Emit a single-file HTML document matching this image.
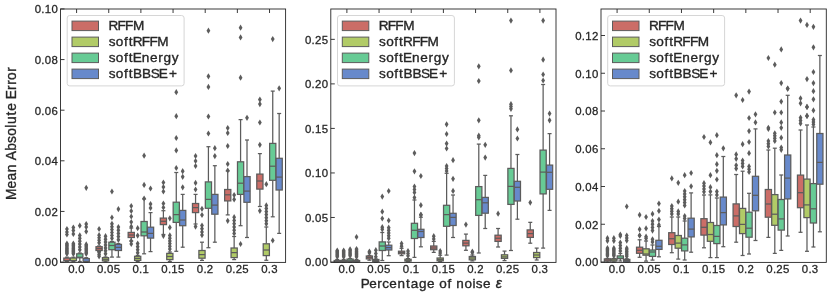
<!DOCTYPE html><html><head><meta charset="utf-8"><style>html,body{margin:0;padding:0;background:#fff;}svg{display:block;will-change:transform;}text{font-family:"Liberation Sans",sans-serif;fill:#262626;stroke:#262626;stroke-width:0.35px;}text.tk{stroke-width:0.28px;}</style></head><body>
<svg width="831" height="297" viewBox="0 0 831 297">
<rect width="831" height="297" fill="#fff"/>
<defs><path id="dm" d="M0,-3.1 L1.9,0 L0,3.1 L-1.9,0 Z"/></defs>
<g stroke="#5c5c5c" stroke-width="1.25" fill="#5c5c5c"><line x1="66.93" y1="260.60" x2="66.93" y2="261.50"/><line x1="66.93" y1="258.10" x2="66.93" y2="257.20"/><line x1="64.93" y1="261.50" x2="68.93" y2="261.50"/><line x1="64.93" y1="257.20" x2="68.93" y2="257.20"/><g stroke="none"><use href="#dm" x="66.93" y="243.60"/><use href="#dm" x="66.93" y="244.73"/><use href="#dm" x="66.93" y="245.87"/><use href="#dm" x="66.93" y="247.00"/><use href="#dm" x="66.93" y="248.13"/><use href="#dm" x="66.93" y="249.27"/><use href="#dm" x="66.93" y="250.40"/><use href="#dm" x="66.93" y="251.53"/><use href="#dm" x="66.93" y="252.67"/><use href="#dm" x="66.93" y="253.80"/><use href="#dm" x="66.93" y="229.00"/><use href="#dm" x="66.93" y="232.00"/><use href="#dm" x="66.93" y="234.50"/></g><rect x="63.83" y="258.10" width="6.20" height="2.50" fill="#cb6d67"/><line x1="63.83" y1="260.60" x2="70.03" y2="260.60"/></g>
<g stroke="#5c5c5c" stroke-width="1.25" fill="#5c5c5c"><line x1="73.36" y1="260.60" x2="73.36" y2="261.50"/><line x1="73.36" y1="258.00" x2="73.36" y2="257.20"/><line x1="71.36" y1="261.50" x2="75.36" y2="261.50"/><line x1="71.36" y1="257.20" x2="75.36" y2="257.20"/><g stroke="none"><use href="#dm" x="73.36" y="243.60"/><use href="#dm" x="73.36" y="244.73"/><use href="#dm" x="73.36" y="245.87"/><use href="#dm" x="73.36" y="247.00"/><use href="#dm" x="73.36" y="248.13"/><use href="#dm" x="73.36" y="249.27"/><use href="#dm" x="73.36" y="250.40"/><use href="#dm" x="73.36" y="251.53"/><use href="#dm" x="73.36" y="252.67"/><use href="#dm" x="73.36" y="253.80"/><use href="#dm" x="73.36" y="227.50"/><use href="#dm" x="73.36" y="230.50"/><use href="#dm" x="73.36" y="234.00"/></g><rect x="70.26" y="258.00" width="6.20" height="2.60" fill="#b1cb67"/><line x1="70.26" y1="260.60" x2="76.46" y2="260.60"/></g>
<g stroke="#5c5c5c" stroke-width="1.25" fill="#5c5c5c"><line x1="79.79" y1="257.80" x2="79.79" y2="261.50"/><line x1="79.79" y1="253.80" x2="79.79" y2="253.00"/><line x1="77.79" y1="261.50" x2="81.79" y2="261.50"/><line x1="77.79" y1="253.00" x2="81.79" y2="253.00"/><g stroke="none"><use href="#dm" x="79.79" y="235.40"/><use href="#dm" x="79.79" y="238.28"/><use href="#dm" x="79.79" y="241.16"/><use href="#dm" x="79.79" y="244.04"/><use href="#dm" x="79.79" y="246.92"/><use href="#dm" x="79.79" y="249.80"/><use href="#dm" x="79.79" y="225.70"/></g><rect x="76.69" y="253.80" width="6.20" height="4.00" fill="#67cb95"/><line x1="76.69" y1="257.20" x2="82.89" y2="257.20"/></g>
<g stroke="#5c5c5c" stroke-width="1.25" fill="#5c5c5c"><line x1="86.23" y1="261.50" x2="86.23" y2="262.00"/><line x1="86.23" y1="258.60" x2="86.23" y2="257.70"/><line x1="84.23" y1="262.00" x2="88.23" y2="262.00"/><line x1="84.23" y1="257.70" x2="88.23" y2="257.70"/><g stroke="none"><use href="#dm" x="86.23" y="244.40"/><use href="#dm" x="86.23" y="245.74"/><use href="#dm" x="86.23" y="247.09"/><use href="#dm" x="86.23" y="248.43"/><use href="#dm" x="86.23" y="249.77"/><use href="#dm" x="86.23" y="251.11"/><use href="#dm" x="86.23" y="252.46"/><use href="#dm" x="86.23" y="253.80"/><use href="#dm" x="86.23" y="224.00"/><use href="#dm" x="86.23" y="227.00"/><use href="#dm" x="86.23" y="231.50"/><use href="#dm" x="86.23" y="187.80"/></g><rect x="83.13" y="258.60" width="6.20" height="2.90" fill="#6789cb"/><line x1="83.13" y1="261.50" x2="89.33" y2="261.50"/></g>
<g stroke="#5c5c5c" stroke-width="1.25" fill="#5c5c5c"><line x1="99.09" y1="250.50" x2="99.09" y2="251.50"/><line x1="99.09" y1="246.70" x2="99.09" y2="246.00"/><line x1="97.09" y1="251.50" x2="101.09" y2="251.50"/><line x1="97.09" y1="246.00" x2="101.09" y2="246.00"/><g stroke="none"><use href="#dm" x="99.09" y="235.20"/><use href="#dm" x="99.09" y="237.73"/><use href="#dm" x="99.09" y="240.27"/><use href="#dm" x="99.09" y="242.80"/><use href="#dm" x="99.09" y="229.00"/><use href="#dm" x="99.09" y="252.50"/><use href="#dm" x="99.09" y="254.50"/><use href="#dm" x="99.09" y="256.30"/></g><rect x="95.99" y="246.70" width="6.20" height="3.80" fill="#cb6d67"/><line x1="95.99" y1="248.60" x2="102.19" y2="248.60"/></g>
<g stroke="#5c5c5c" stroke-width="1.25" fill="#5c5c5c"><line x1="105.52" y1="260.90" x2="105.52" y2="261.80"/><line x1="105.52" y1="257.60" x2="105.52" y2="257.00"/><line x1="103.52" y1="261.80" x2="107.52" y2="261.80"/><line x1="103.52" y1="257.00" x2="107.52" y2="257.00"/><g stroke="none"><use href="#dm" x="105.52" y="236.20"/><use href="#dm" x="105.52" y="239.13"/><use href="#dm" x="105.52" y="242.07"/><use href="#dm" x="105.52" y="245.00"/><use href="#dm" x="105.52" y="247.93"/><use href="#dm" x="105.52" y="250.87"/><use href="#dm" x="105.52" y="253.80"/></g><rect x="102.42" y="257.60" width="6.20" height="3.30" fill="#b1cb67"/><line x1="102.42" y1="259.30" x2="108.62" y2="259.30"/></g>
<g stroke="#5c5c5c" stroke-width="1.25" fill="#5c5c5c"><line x1="111.95" y1="249.70" x2="111.95" y2="257.10"/><line x1="111.95" y1="242.20" x2="111.95" y2="241.50"/><line x1="109.95" y1="257.10" x2="113.95" y2="257.10"/><line x1="109.95" y1="241.50" x2="113.95" y2="241.50"/><g stroke="none"><use href="#dm" x="111.95" y="223.80"/><use href="#dm" x="111.95" y="226.70"/><use href="#dm" x="111.95" y="229.60"/><use href="#dm" x="111.95" y="232.50"/><use href="#dm" x="111.95" y="235.40"/><use href="#dm" x="111.95" y="238.30"/><use href="#dm" x="111.95" y="217.50"/><use href="#dm" x="111.95" y="191.50"/></g><rect x="108.85" y="242.20" width="6.20" height="7.50" fill="#67cb95"/><line x1="108.85" y1="245.50" x2="115.05" y2="245.50"/></g>
<g stroke="#5c5c5c" stroke-width="1.25" fill="#5c5c5c"><line x1="118.38" y1="250.50" x2="118.38" y2="257.10"/><line x1="118.38" y1="244.40" x2="118.38" y2="243.50"/><line x1="116.38" y1="257.10" x2="120.38" y2="257.10"/><line x1="116.38" y1="243.50" x2="120.38" y2="243.50"/><g stroke="none"><use href="#dm" x="118.38" y="227.10"/><use href="#dm" x="118.38" y="230.28"/><use href="#dm" x="118.38" y="233.45"/><use href="#dm" x="118.38" y="236.62"/><use href="#dm" x="118.38" y="239.80"/><use href="#dm" x="118.38" y="209.10"/></g><rect x="115.28" y="244.40" width="6.20" height="6.10" fill="#6789cb"/><line x1="115.28" y1="247.40" x2="121.48" y2="247.40"/></g>
<g stroke="#5c5c5c" stroke-width="1.25" fill="#5c5c5c"><line x1="131.25" y1="237.50" x2="131.25" y2="241.00"/><line x1="131.25" y1="232.40" x2="131.25" y2="228.00"/><line x1="129.25" y1="241.00" x2="133.25" y2="241.00"/><line x1="129.25" y1="228.00" x2="133.25" y2="228.00"/><g stroke="none"><use href="#dm" x="131.25" y="206.00"/><use href="#dm" x="131.25" y="211.00"/><use href="#dm" x="131.25" y="216.50"/><use href="#dm" x="131.25" y="222.00"/><use href="#dm" x="131.25" y="226.50"/><use href="#dm" x="131.25" y="241.00"/><use href="#dm" x="131.25" y="244.00"/></g><rect x="128.15" y="232.40" width="6.20" height="5.10" fill="#cb6d67"/><line x1="128.15" y1="235.00" x2="134.35" y2="235.00"/></g>
<g stroke="#5c5c5c" stroke-width="1.25" fill="#5c5c5c"><line x1="137.68" y1="260.40" x2="137.68" y2="261.50"/><line x1="137.68" y1="256.30" x2="137.68" y2="255.50"/><line x1="135.68" y1="261.50" x2="139.68" y2="261.50"/><line x1="135.68" y1="255.50" x2="139.68" y2="255.50"/><g stroke="none"><use href="#dm" x="137.68" y="243.60"/><use href="#dm" x="137.68" y="246.67"/><use href="#dm" x="137.68" y="249.73"/><use href="#dm" x="137.68" y="252.80"/><use href="#dm" x="137.68" y="228.20"/><use href="#dm" x="137.68" y="235.60"/></g><rect x="134.58" y="256.30" width="6.20" height="4.10" fill="#b1cb67"/><line x1="134.58" y1="258.40" x2="140.78" y2="258.40"/></g>
<g stroke="#5c5c5c" stroke-width="1.25" fill="#5c5c5c"><line x1="144.11" y1="235.80" x2="144.11" y2="253.80"/><line x1="144.11" y1="221.50" x2="144.11" y2="199.00"/><line x1="142.11" y1="253.80" x2="146.11" y2="253.80"/><line x1="142.11" y1="199.00" x2="146.11" y2="199.00"/><g stroke="none"><use href="#dm" x="144.11" y="198.50"/><use href="#dm" x="144.11" y="184.90"/><use href="#dm" x="144.11" y="155.70"/></g><rect x="141.01" y="221.50" width="6.20" height="14.30" fill="#67cb95"/><line x1="141.01" y1="232.00" x2="147.21" y2="232.00"/></g>
<g stroke="#5c5c5c" stroke-width="1.25" fill="#5c5c5c"><line x1="150.54" y1="238.10" x2="150.54" y2="251.60"/><line x1="150.54" y1="227.20" x2="150.54" y2="212.60"/><line x1="148.54" y1="251.60" x2="152.54" y2="251.60"/><line x1="148.54" y1="212.60" x2="152.54" y2="212.60"/><g stroke="none"><use href="#dm" x="150.54" y="204.00"/><use href="#dm" x="150.54" y="208.00"/><use href="#dm" x="150.54" y="188.50"/></g><rect x="147.44" y="227.20" width="6.20" height="10.90" fill="#6789cb"/><line x1="147.44" y1="233.40" x2="153.64" y2="233.40"/></g>
<g stroke="#5c5c5c" stroke-width="1.25" fill="#5c5c5c"><line x1="163.40" y1="224.60" x2="163.40" y2="234.50"/><line x1="163.40" y1="218.10" x2="163.40" y2="210.70"/><line x1="161.40" y1="234.50" x2="165.40" y2="234.50"/><line x1="161.40" y1="210.70" x2="165.40" y2="210.70"/><g stroke="none"><use href="#dm" x="163.40" y="203.50"/><use href="#dm" x="163.40" y="207.50"/><use href="#dm" x="163.40" y="182.50"/><use href="#dm" x="163.40" y="187.00"/><use href="#dm" x="163.40" y="191.50"/><use href="#dm" x="163.40" y="235.80"/></g><rect x="160.30" y="218.10" width="6.20" height="6.50" fill="#cb6d67"/><line x1="160.30" y1="221.30" x2="166.50" y2="221.30"/></g>
<g stroke="#5c5c5c" stroke-width="1.25" fill="#5c5c5c"><line x1="169.83" y1="259.60" x2="169.83" y2="261.50"/><line x1="169.83" y1="253.40" x2="169.83" y2="252.00"/><line x1="167.83" y1="261.50" x2="171.83" y2="261.50"/><line x1="167.83" y1="252.00" x2="171.83" y2="252.00"/><g stroke="none"><use href="#dm" x="169.83" y="235.40"/><use href="#dm" x="169.83" y="238.14"/><use href="#dm" x="169.83" y="240.88"/><use href="#dm" x="169.83" y="243.62"/><use href="#dm" x="169.83" y="246.36"/><use href="#dm" x="169.83" y="249.10"/><use href="#dm" x="169.83" y="218.30"/><use href="#dm" x="169.83" y="227.40"/></g><rect x="166.73" y="253.40" width="6.20" height="6.20" fill="#b1cb67"/><line x1="166.73" y1="256.50" x2="172.93" y2="256.50"/></g>
<g stroke="#5c5c5c" stroke-width="1.25" fill="#5c5c5c"><line x1="176.27" y1="222.40" x2="176.27" y2="251.30"/><line x1="176.27" y1="202.20" x2="176.27" y2="172.50"/><line x1="174.27" y1="251.30" x2="178.27" y2="251.30"/><line x1="174.27" y1="172.50" x2="178.27" y2="172.50"/><g stroke="none"><use href="#dm" x="176.27" y="168.00"/><use href="#dm" x="176.27" y="150.40"/><use href="#dm" x="176.27" y="138.00"/><use href="#dm" x="176.27" y="116.20"/><use href="#dm" x="176.27" y="92.20"/></g><rect x="173.17" y="202.20" width="6.20" height="20.20" fill="#67cb95"/><line x1="173.17" y1="214.60" x2="179.37" y2="214.60"/></g>
<g stroke="#5c5c5c" stroke-width="1.25" fill="#5c5c5c"><line x1="182.70" y1="225.70" x2="182.70" y2="247.20"/><line x1="182.70" y1="210.40" x2="182.70" y2="194.40"/><line x1="180.70" y1="247.20" x2="184.70" y2="247.20"/><line x1="180.70" y1="194.40" x2="184.70" y2="194.40"/><g stroke="none"><use href="#dm" x="182.70" y="187.30"/><use href="#dm" x="182.70" y="171.20"/><use href="#dm" x="182.70" y="176.80"/></g><rect x="179.60" y="210.40" width="6.20" height="15.30" fill="#6789cb"/><line x1="179.60" y1="220.00" x2="185.80" y2="220.00"/></g>
<g stroke="#5c5c5c" stroke-width="1.25" fill="#5c5c5c"><line x1="195.56" y1="212.60" x2="195.56" y2="224.00"/><line x1="195.56" y1="203.50" x2="195.56" y2="194.40"/><line x1="193.56" y1="224.00" x2="197.56" y2="224.00"/><line x1="193.56" y1="194.40" x2="197.56" y2="194.40"/><g stroke="none"><use href="#dm" x="195.56" y="182.90"/><use href="#dm" x="195.56" y="189.50"/><use href="#dm" x="195.56" y="156.00"/><use href="#dm" x="195.56" y="161.00"/><use href="#dm" x="195.56" y="166.00"/><use href="#dm" x="195.56" y="226.60"/></g><rect x="192.46" y="203.50" width="6.20" height="9.10" fill="#cb6d67"/><line x1="192.46" y1="207.60" x2="198.66" y2="207.60"/></g>
<g stroke="#5c5c5c" stroke-width="1.25" fill="#5c5c5c"><line x1="201.99" y1="258.20" x2="201.99" y2="260.40"/><line x1="201.99" y1="250.50" x2="201.99" y2="242.20"/><line x1="199.99" y1="260.40" x2="203.99" y2="260.40"/><line x1="199.99" y1="242.20" x2="203.99" y2="242.20"/><g stroke="none"><use href="#dm" x="201.99" y="225.50"/><use href="#dm" x="201.99" y="228.70"/><use href="#dm" x="201.99" y="231.90"/><use href="#dm" x="201.99" y="235.10"/><use href="#dm" x="201.99" y="215.00"/><use href="#dm" x="201.99" y="208.80"/></g><rect x="198.89" y="250.50" width="6.20" height="7.70" fill="#b1cb67"/><line x1="198.89" y1="254.60" x2="205.09" y2="254.60"/></g>
<g stroke="#5c5c5c" stroke-width="1.25" fill="#5c5c5c"><line x1="208.42" y1="208.30" x2="208.42" y2="247.70"/><line x1="208.42" y1="181.90" x2="208.42" y2="146.70"/><line x1="206.42" y1="247.70" x2="210.42" y2="247.70"/><line x1="206.42" y1="146.70" x2="210.42" y2="146.70"/><g stroke="none"><use href="#dm" x="208.42" y="133.50"/><use href="#dm" x="208.42" y="116.50"/><use href="#dm" x="208.42" y="86.90"/><use href="#dm" x="208.42" y="76.30"/><use href="#dm" x="208.42" y="30.70"/></g><rect x="205.32" y="181.90" width="6.20" height="26.40" fill="#67cb95"/><line x1="205.32" y1="199.40" x2="211.52" y2="199.40"/></g>
<g stroke="#5c5c5c" stroke-width="1.25" fill="#5c5c5c"><line x1="214.85" y1="214.20" x2="214.85" y2="242.20"/><line x1="214.85" y1="194.40" x2="214.85" y2="165.70"/><line x1="212.85" y1="242.20" x2="216.85" y2="242.20"/><line x1="212.85" y1="165.70" x2="216.85" y2="165.70"/><g stroke="none"><use href="#dm" x="214.85" y="156.10"/><use href="#dm" x="214.85" y="148.20"/></g><rect x="211.75" y="194.40" width="6.20" height="19.80" fill="#6789cb"/><line x1="211.75" y1="205.10" x2="217.95" y2="205.10"/></g>
<g stroke="#5c5c5c" stroke-width="1.25" fill="#5c5c5c"><line x1="227.72" y1="200.90" x2="227.72" y2="214.90"/><line x1="227.72" y1="189.50" x2="227.72" y2="171.00"/><line x1="225.72" y1="214.90" x2="229.72" y2="214.90"/><line x1="225.72" y1="171.00" x2="229.72" y2="171.00"/><g stroke="none"><use href="#dm" x="227.72" y="170.50"/><use href="#dm" x="227.72" y="164.00"/><use href="#dm" x="227.72" y="146.00"/><use href="#dm" x="227.72" y="133.00"/><use href="#dm" x="227.72" y="128.00"/><use href="#dm" x="227.72" y="220.80"/></g><rect x="224.62" y="189.50" width="6.20" height="11.40" fill="#cb6d67"/><line x1="224.62" y1="194.80" x2="230.82" y2="194.80"/></g>
<g stroke="#5c5c5c" stroke-width="1.25" fill="#5c5c5c"><line x1="234.15" y1="257.60" x2="234.15" y2="259.60"/><line x1="234.15" y1="248.00" x2="234.15" y2="236.50"/><line x1="232.15" y1="259.60" x2="236.15" y2="259.60"/><line x1="232.15" y1="236.50" x2="236.15" y2="236.50"/><g stroke="none"><use href="#dm" x="234.15" y="217.20"/><use href="#dm" x="234.15" y="220.44"/><use href="#dm" x="234.15" y="223.68"/><use href="#dm" x="234.15" y="226.92"/><use href="#dm" x="234.15" y="230.16"/><use href="#dm" x="234.15" y="233.40"/><use href="#dm" x="234.15" y="199.40"/><use href="#dm" x="234.15" y="195.00"/></g><rect x="231.05" y="248.00" width="6.20" height="9.60" fill="#b1cb67"/><line x1="231.05" y1="252.60" x2="237.25" y2="252.60"/></g>
<g stroke="#5c5c5c" stroke-width="1.25" fill="#5c5c5c"><line x1="240.58" y1="194.40" x2="240.58" y2="225.70"/><line x1="240.58" y1="161.80" x2="240.58" y2="119.60"/><line x1="238.58" y1="225.70" x2="242.58" y2="225.70"/><line x1="238.58" y1="119.60" x2="242.58" y2="119.60"/><g stroke="none"><use href="#dm" x="240.58" y="77.70"/><use href="#dm" x="240.58" y="37.40"/><use href="#dm" x="240.58" y="27.70"/><use href="#dm" x="240.58" y="244.00"/></g><rect x="237.48" y="161.80" width="6.20" height="32.60" fill="#67cb95"/><line x1="237.48" y1="183.20" x2="243.68" y2="183.20"/></g>
<g stroke="#5c5c5c" stroke-width="1.25" fill="#5c5c5c"><line x1="247.01" y1="202.30" x2="247.01" y2="237.50"/><line x1="247.01" y1="176.60" x2="247.01" y2="140.00"/><line x1="245.01" y1="237.50" x2="249.01" y2="237.50"/><line x1="245.01" y1="140.00" x2="249.01" y2="140.00"/><g stroke="none"><use href="#dm" x="247.01" y="117.80"/></g><rect x="243.91" y="176.60" width="6.20" height="25.70" fill="#6789cb"/><line x1="243.91" y1="191.10" x2="250.11" y2="191.10"/></g>
<g stroke="#5c5c5c" stroke-width="1.25" fill="#5c5c5c"><line x1="259.87" y1="189.10" x2="259.87" y2="206.50"/><line x1="259.87" y1="174.10" x2="259.87" y2="153.60"/><line x1="257.87" y1="206.50" x2="261.87" y2="206.50"/><line x1="257.87" y1="153.60" x2="261.87" y2="153.60"/><g stroke="none"><use href="#dm" x="259.87" y="144.80"/><use href="#dm" x="259.87" y="122.50"/><use href="#dm" x="259.87" y="104.10"/><use href="#dm" x="259.87" y="99.60"/><use href="#dm" x="259.87" y="210.80"/></g><rect x="256.77" y="174.10" width="6.20" height="15.00" fill="#cb6d67"/><line x1="256.77" y1="181.00" x2="262.97" y2="181.00"/></g>
<g stroke="#5c5c5c" stroke-width="1.25" fill="#5c5c5c"><line x1="266.31" y1="255.60" x2="266.31" y2="260.30"/><line x1="266.31" y1="243.80" x2="266.31" y2="227.00"/><line x1="264.31" y1="260.30" x2="268.31" y2="260.30"/><line x1="264.31" y1="227.00" x2="268.31" y2="227.00"/><g stroke="none"><use href="#dm" x="266.31" y="205.40"/><use href="#dm" x="266.31" y="208.47"/><use href="#dm" x="266.31" y="211.53"/><use href="#dm" x="266.31" y="214.60"/><use href="#dm" x="266.31" y="217.67"/><use href="#dm" x="266.31" y="220.73"/><use href="#dm" x="266.31" y="223.80"/><use href="#dm" x="266.31" y="184.20"/></g><rect x="263.21" y="243.80" width="6.20" height="11.80" fill="#b1cb67"/><line x1="263.21" y1="250.00" x2="269.41" y2="250.00"/></g>
<g stroke="#5c5c5c" stroke-width="1.25" fill="#5c5c5c"><line x1="272.74" y1="180.30" x2="272.74" y2="216.80"/><line x1="272.74" y1="143.40" x2="272.74" y2="91.10"/><line x1="270.74" y1="216.80" x2="274.74" y2="216.80"/><line x1="270.74" y1="91.10" x2="274.74" y2="91.10"/><g stroke="none"><use href="#dm" x="272.74" y="39.10"/><use href="#dm" x="272.74" y="240.50"/></g><rect x="269.64" y="143.40" width="6.20" height="36.90" fill="#67cb95"/><line x1="269.64" y1="166.20" x2="275.84" y2="166.20"/></g>
<g stroke="#5c5c5c" stroke-width="1.25" fill="#5c5c5c"><line x1="279.17" y1="190.00" x2="279.17" y2="233.40"/><line x1="279.17" y1="158.30" x2="279.17" y2="113.50"/><line x1="277.17" y1="233.40" x2="281.17" y2="233.40"/><line x1="277.17" y1="113.50" x2="281.17" y2="113.50"/><g stroke="none"><use href="#dm" x="279.17" y="88.30"/></g><rect x="276.07" y="158.30" width="6.20" height="31.70" fill="#6789cb"/><line x1="276.07" y1="177.10" x2="282.27" y2="177.10"/></g>
<rect x="60.5" y="9.0" width="225.10" height="253.40" fill="none" stroke="#262626" stroke-width="0.9"/>
<line x1="60.5" y1="262.05" x2="64.50" y2="262.05" stroke="#262626" stroke-width="0.9"/>
<text x="34.69 41.29 44.71 51.39" y="266.45" font-size="11.4" class="tk">0.00</text>
<line x1="60.5" y1="211.43" x2="64.50" y2="211.43" stroke="#262626" stroke-width="0.9"/>
<text x="34.69 41.29 44.71 51.39" y="215.83" font-size="11.4" class="tk">0.02</text>
<line x1="60.5" y1="160.81" x2="64.50" y2="160.81" stroke="#262626" stroke-width="0.9"/>
<text x="34.69 41.29 44.71 51.39" y="165.21" font-size="11.4" class="tk">0.04</text>
<line x1="60.5" y1="110.19" x2="64.50" y2="110.19" stroke="#262626" stroke-width="0.9"/>
<text x="34.69 41.29 44.71 51.39" y="114.59" font-size="11.4" class="tk">0.06</text>
<line x1="60.5" y1="59.57" x2="64.50" y2="59.57" stroke="#262626" stroke-width="0.9"/>
<text x="34.69 41.29 44.71 51.39" y="63.97" font-size="11.4" class="tk">0.08</text>
<line x1="60.5" y1="8.95" x2="64.50" y2="8.95" stroke="#262626" stroke-width="0.9"/>
<text x="34.69 41.29 44.71 51.39" y="13.35" font-size="11.4" class="tk">0.10</text>
<line x1="76.58" y1="9.0" x2="76.58" y2="13.00" stroke="#262626" stroke-width="0.9"/>
<text x="68.20 74.79 78.22" y="273.00" font-size="11.4" class="tk">0.0</text>
<line x1="108.74" y1="9.0" x2="108.74" y2="13.00" stroke="#262626" stroke-width="0.9"/>
<text x="97.02 103.61 107.03 113.71" y="273.00" font-size="11.4" class="tk">0.05</text>
<line x1="140.89" y1="9.0" x2="140.89" y2="13.00" stroke="#262626" stroke-width="0.9"/>
<text x="132.51 139.11 142.53" y="273.00" font-size="11.4" class="tk">0.1</text>
<line x1="173.05" y1="9.0" x2="173.05" y2="13.00" stroke="#262626" stroke-width="0.9"/>
<text x="161.33 167.93 171.35 178.03" y="273.00" font-size="11.4" class="tk">0.15</text>
<line x1="205.21" y1="9.0" x2="205.21" y2="13.00" stroke="#262626" stroke-width="0.9"/>
<text x="196.83 203.42 206.85" y="273.00" font-size="11.4" class="tk">0.2</text>
<line x1="237.36" y1="9.0" x2="237.36" y2="13.00" stroke="#262626" stroke-width="0.9"/>
<text x="225.64 232.24 235.66 242.34" y="273.00" font-size="11.4" class="tk">0.25</text>
<line x1="269.52" y1="9.0" x2="269.52" y2="13.00" stroke="#262626" stroke-width="0.9"/>
<text x="261.14 267.74 271.16" y="273.00" font-size="11.4" class="tk">0.3</text>
<rect x="67.20" y="15.50" width="116.9" height="70.4" rx="2.5" fill="#fff" fill-opacity="0.8" stroke="#d6d6d6" stroke-width="1"/>
<rect x="72.00" y="21.10" width="26.5" height="9.5" fill="#cb6d67" stroke="#5c5c5c" stroke-width="1"/>
<text x="108.44 117.52 125.05 132.96" y="30.10" font-size="13.6">RFFM</text>
<rect x="72.00" y="37.10" width="26.5" height="9.5" fill="#b1cb67" stroke="#5c5c5c" stroke-width="1"/>
<text x="108.81 115.85 124.06 128.82 132.80 141.87 149.41 157.32" y="46.10" font-size="13.6">softRFFM</text>
<rect x="72.00" y="53.10" width="26.5" height="9.5" fill="#67cb95" stroke="#5c5c5c" stroke-width="1"/>
<text x="108.81 115.85 124.06 128.82 132.76 141.80 149.99 158.23 163.44 171.74" y="62.10" font-size="13.6">softEnergy</text>
<rect x="72.00" y="69.10" width="26.5" height="9.5" fill="#6789cb" stroke="#5c5c5c" stroke-width="1"/>
<text x="108.81 115.85 124.06 128.82 133.12 142.10 150.64 158.82 169.01" y="78.10" font-size="13.6">softBBSE+</text>
<g stroke="#5c5c5c" stroke-width="1.25" fill="#5c5c5c"><line x1="337.23" y1="261.80" x2="337.23" y2="262.00"/><line x1="337.23" y1="260.50" x2="337.23" y2="259.50"/><line x1="335.23" y1="262.00" x2="339.23" y2="262.00"/><line x1="335.23" y1="259.50" x2="339.23" y2="259.50"/><g stroke="none"><use href="#dm" x="337.23" y="250.50"/><use href="#dm" x="337.23" y="251.55"/><use href="#dm" x="337.23" y="252.60"/><use href="#dm" x="337.23" y="253.65"/><use href="#dm" x="337.23" y="254.70"/><use href="#dm" x="337.23" y="255.75"/><use href="#dm" x="337.23" y="256.80"/></g><rect x="334.13" y="260.50" width="6.20" height="1.30" fill="#cb6d67"/><line x1="334.13" y1="261.20" x2="340.33" y2="261.20"/></g>
<g stroke="#5c5c5c" stroke-width="1.25" fill="#5c5c5c"><line x1="343.67" y1="261.80" x2="343.67" y2="262.00"/><line x1="343.67" y1="260.50" x2="343.67" y2="259.50"/><line x1="341.67" y1="262.00" x2="345.67" y2="262.00"/><line x1="341.67" y1="259.50" x2="345.67" y2="259.50"/><g stroke="none"><use href="#dm" x="343.67" y="250.50"/><use href="#dm" x="343.67" y="251.55"/><use href="#dm" x="343.67" y="252.60"/><use href="#dm" x="343.67" y="253.65"/><use href="#dm" x="343.67" y="254.70"/><use href="#dm" x="343.67" y="255.75"/><use href="#dm" x="343.67" y="256.80"/></g><rect x="340.57" y="260.50" width="6.20" height="1.30" fill="#b1cb67"/><line x1="340.57" y1="261.20" x2="346.77" y2="261.20"/></g>
<g stroke="#5c5c5c" stroke-width="1.25" fill="#5c5c5c"><line x1="350.10" y1="261.50" x2="350.10" y2="262.00"/><line x1="350.10" y1="259.10" x2="350.10" y2="258.50"/><line x1="348.10" y1="262.00" x2="352.10" y2="262.00"/><line x1="348.10" y1="258.50" x2="352.10" y2="258.50"/><g stroke="none"><use href="#dm" x="350.10" y="249.30"/><use href="#dm" x="350.10" y="250.60"/><use href="#dm" x="350.10" y="251.90"/><use href="#dm" x="350.10" y="253.20"/><use href="#dm" x="350.10" y="254.50"/><use href="#dm" x="350.10" y="255.80"/></g><rect x="347.00" y="259.10" width="6.20" height="2.40" fill="#67cb95"/><line x1="347.00" y1="260.80" x2="353.20" y2="260.80"/></g>
<g stroke="#5c5c5c" stroke-width="1.25" fill="#5c5c5c"><line x1="356.54" y1="261.80" x2="356.54" y2="262.00"/><line x1="356.54" y1="260.50" x2="356.54" y2="259.50"/><line x1="354.54" y1="262.00" x2="358.54" y2="262.00"/><line x1="354.54" y1="259.50" x2="358.54" y2="259.50"/><g stroke="none"><use href="#dm" x="356.54" y="249.00"/><use href="#dm" x="356.54" y="250.11"/><use href="#dm" x="356.54" y="251.23"/><use href="#dm" x="356.54" y="252.34"/><use href="#dm" x="356.54" y="253.46"/><use href="#dm" x="356.54" y="254.57"/><use href="#dm" x="356.54" y="255.69"/><use href="#dm" x="356.54" y="256.80"/><use href="#dm" x="356.54" y="237.00"/></g><rect x="353.44" y="260.50" width="6.20" height="1.30" fill="#6789cb"/><line x1="353.44" y1="261.20" x2="359.64" y2="261.20"/></g>
<g stroke="#5c5c5c" stroke-width="1.25" fill="#5c5c5c"><line x1="369.41" y1="258.90" x2="369.41" y2="260.20"/><line x1="369.41" y1="256.00" x2="369.41" y2="255.50"/><line x1="367.41" y1="260.20" x2="371.41" y2="260.20"/><line x1="367.41" y1="255.50" x2="371.41" y2="255.50"/><g stroke="none"><use href="#dm" x="369.41" y="251.50"/><use href="#dm" x="369.41" y="252.80"/></g><rect x="366.31" y="256.00" width="6.20" height="2.90" fill="#cb6d67"/><line x1="366.31" y1="257.40" x2="372.51" y2="257.40"/></g>
<g stroke="#5c5c5c" stroke-width="1.25" fill="#5c5c5c"><line x1="375.84" y1="261.50" x2="375.84" y2="262.00"/><line x1="375.84" y1="259.50" x2="375.84" y2="259.00"/><line x1="373.84" y1="262.00" x2="377.84" y2="262.00"/><line x1="373.84" y1="259.00" x2="377.84" y2="259.00"/><g stroke="none"><use href="#dm" x="375.84" y="250.20"/><use href="#dm" x="375.84" y="253.50"/><use href="#dm" x="375.84" y="256.80"/></g><rect x="372.74" y="259.50" width="6.20" height="2.00" fill="#b1cb67"/><line x1="372.74" y1="260.50" x2="378.94" y2="260.50"/></g>
<g stroke="#5c5c5c" stroke-width="1.25" fill="#5c5c5c"><line x1="382.27" y1="250.50" x2="382.27" y2="260.50"/><line x1="382.27" y1="241.90" x2="382.27" y2="232.50"/><line x1="380.27" y1="260.50" x2="384.27" y2="260.50"/><line x1="380.27" y1="232.50" x2="384.27" y2="232.50"/><g stroke="none"><use href="#dm" x="382.27" y="227.20"/><use href="#dm" x="382.27" y="229.30"/><use href="#dm" x="382.27" y="218.50"/><use href="#dm" x="382.27" y="211.70"/><use href="#dm" x="382.27" y="196.60"/></g><rect x="379.17" y="241.90" width="6.20" height="8.60" fill="#67cb95"/><line x1="379.17" y1="246.00" x2="385.37" y2="246.00"/></g>
<g stroke="#5c5c5c" stroke-width="1.25" fill="#5c5c5c"><line x1="388.71" y1="250.00" x2="388.71" y2="255.70"/><line x1="388.71" y1="245.20" x2="388.71" y2="242.00"/><line x1="386.71" y1="255.70" x2="390.71" y2="255.70"/><line x1="386.71" y1="242.00" x2="390.71" y2="242.00"/><g stroke="none"><use href="#dm" x="388.71" y="227.70"/><use href="#dm" x="388.71" y="230.35"/><use href="#dm" x="388.71" y="233.00"/><use href="#dm" x="388.71" y="235.65"/><use href="#dm" x="388.71" y="238.30"/><use href="#dm" x="388.71" y="220.50"/><use href="#dm" x="388.71" y="191.00"/></g><rect x="385.61" y="245.20" width="6.20" height="4.80" fill="#6789cb"/><line x1="385.61" y1="247.60" x2="391.81" y2="247.60"/></g>
<g stroke="#5c5c5c" stroke-width="1.25" fill="#5c5c5c"><line x1="401.58" y1="253.80" x2="401.58" y2="255.60"/><line x1="401.58" y1="251.20" x2="401.58" y2="248.30"/><line x1="399.58" y1="255.60" x2="403.58" y2="255.60"/><line x1="399.58" y1="248.30" x2="403.58" y2="248.30"/><g stroke="none"><use href="#dm" x="401.58" y="243.50"/><use href="#dm" x="401.58" y="246.20"/></g><rect x="398.48" y="251.20" width="6.20" height="2.60" fill="#cb6d67"/><line x1="398.48" y1="252.50" x2="404.68" y2="252.50"/></g>
<g stroke="#5c5c5c" stroke-width="1.25" fill="#5c5c5c"><line x1="408.01" y1="261.10" x2="408.01" y2="261.50"/><line x1="408.01" y1="259.20" x2="408.01" y2="258.60"/><line x1="406.01" y1="261.50" x2="410.01" y2="261.50"/><line x1="406.01" y1="258.60" x2="410.01" y2="258.60"/><g stroke="none"><use href="#dm" x="408.01" y="251.10"/><use href="#dm" x="408.01" y="253.45"/><use href="#dm" x="408.01" y="255.80"/></g><rect x="404.91" y="259.20" width="6.20" height="1.90" fill="#b1cb67"/><line x1="404.91" y1="260.20" x2="411.11" y2="260.20"/></g>
<g stroke="#5c5c5c" stroke-width="1.25" fill="#5c5c5c"><line x1="414.45" y1="238.50" x2="414.45" y2="257.40"/><line x1="414.45" y1="223.30" x2="414.45" y2="200.00"/><line x1="412.45" y1="257.40" x2="416.45" y2="257.40"/><line x1="412.45" y1="200.00" x2="416.45" y2="200.00"/><g stroke="none"><use href="#dm" x="414.45" y="197.60"/><use href="#dm" x="414.45" y="192.50"/><use href="#dm" x="414.45" y="189.50"/><use href="#dm" x="414.45" y="186.50"/><use href="#dm" x="414.45" y="171.30"/><use href="#dm" x="414.45" y="153.10"/></g><rect x="411.35" y="223.30" width="6.20" height="15.20" fill="#67cb95"/><line x1="411.35" y1="230.30" x2="417.55" y2="230.30"/></g>
<g stroke="#5c5c5c" stroke-width="1.25" fill="#5c5c5c"><line x1="420.88" y1="237.50" x2="420.88" y2="246.80"/><line x1="420.88" y1="229.30" x2="420.88" y2="217.20"/><line x1="418.88" y1="246.80" x2="422.88" y2="246.80"/><line x1="418.88" y1="217.20" x2="422.88" y2="217.20"/><g stroke="none"><use href="#dm" x="420.88" y="214.85"/><use href="#dm" x="420.88" y="214.85"/><use href="#dm" x="420.88" y="205.20"/><use href="#dm" x="420.88" y="176.00"/></g><rect x="417.78" y="229.30" width="6.20" height="8.20" fill="#6789cb"/><line x1="417.78" y1="231.50" x2="423.98" y2="231.50"/></g>
<g stroke="#5c5c5c" stroke-width="1.25" fill="#5c5c5c"><line x1="433.75" y1="249.70" x2="433.75" y2="252.40"/><line x1="433.75" y1="246.00" x2="433.75" y2="241.40"/><line x1="431.75" y1="252.40" x2="435.75" y2="252.40"/><line x1="431.75" y1="241.40" x2="435.75" y2="241.40"/><g stroke="none"><use href="#dm" x="433.75" y="236.20"/><use href="#dm" x="433.75" y="239.00"/></g><rect x="430.65" y="246.00" width="6.20" height="3.70" fill="#cb6d67"/><line x1="430.65" y1="248.00" x2="436.85" y2="248.00"/></g>
<g stroke="#5c5c5c" stroke-width="1.25" fill="#5c5c5c"><line x1="440.18" y1="260.80" x2="440.18" y2="261.50"/><line x1="440.18" y1="258.00" x2="440.18" y2="255.20"/><line x1="438.18" y1="261.50" x2="442.18" y2="261.50"/><line x1="438.18" y1="255.20" x2="442.18" y2="255.20"/><g stroke="none"><use href="#dm" x="440.18" y="251.00"/><use href="#dm" x="440.18" y="253.00"/></g><rect x="437.08" y="258.00" width="6.20" height="2.80" fill="#b1cb67"/><line x1="437.08" y1="259.40" x2="443.28" y2="259.40"/></g>
<g stroke="#5c5c5c" stroke-width="1.25" fill="#5c5c5c"><line x1="446.62" y1="226.30" x2="446.62" y2="255.10"/><line x1="446.62" y1="205.30" x2="446.62" y2="173.30"/><line x1="444.62" y1="255.10" x2="448.62" y2="255.10"/><line x1="444.62" y1="173.30" x2="448.62" y2="173.30"/><g stroke="none"><use href="#dm" x="446.62" y="166.00"/><use href="#dm" x="446.62" y="168.50"/><use href="#dm" x="446.62" y="171.00"/><use href="#dm" x="446.62" y="148.50"/><use href="#dm" x="446.62" y="143.60"/><use href="#dm" x="446.62" y="134.00"/><use href="#dm" x="446.62" y="124.30"/></g><rect x="443.52" y="205.30" width="6.20" height="21.00" fill="#67cb95"/><line x1="443.52" y1="214.60" x2="449.72" y2="214.60"/></g>
<g stroke="#5c5c5c" stroke-width="1.25" fill="#5c5c5c"><line x1="453.05" y1="225.50" x2="453.05" y2="237.50"/><line x1="453.05" y1="213.30" x2="453.05" y2="195.00"/><line x1="451.05" y1="237.50" x2="455.05" y2="237.50"/><line x1="451.05" y1="195.00" x2="455.05" y2="195.00"/><g stroke="none"><use href="#dm" x="453.05" y="190.90"/><use href="#dm" x="453.05" y="178.80"/><use href="#dm" x="453.05" y="160.20"/></g><rect x="449.95" y="213.30" width="6.20" height="12.20" fill="#6789cb"/><line x1="449.95" y1="217.40" x2="456.15" y2="217.40"/></g>
<g stroke="#5c5c5c" stroke-width="1.25" fill="#5c5c5c"><line x1="465.92" y1="245.80" x2="465.92" y2="250.30"/><line x1="465.92" y1="240.40" x2="465.92" y2="234.10"/><line x1="463.92" y1="250.30" x2="467.92" y2="250.30"/><line x1="463.92" y1="234.10" x2="467.92" y2="234.10"/><g stroke="none"><use href="#dm" x="465.92" y="224.60"/></g><rect x="462.82" y="240.40" width="6.20" height="5.40" fill="#cb6d67"/><line x1="462.82" y1="243.10" x2="469.02" y2="243.10"/></g>
<g stroke="#5c5c5c" stroke-width="1.25" fill="#5c5c5c"><line x1="472.35" y1="259.80" x2="472.35" y2="260.90"/><line x1="472.35" y1="256.50" x2="472.35" y2="255.00"/><line x1="470.35" y1="260.90" x2="474.35" y2="260.90"/><line x1="470.35" y1="255.00" x2="474.35" y2="255.00"/><g stroke="none"><use href="#dm" x="472.35" y="251.70"/><use href="#dm" x="472.35" y="252.40"/></g><rect x="469.25" y="256.50" width="6.20" height="3.30" fill="#b1cb67"/><line x1="469.25" y1="258.00" x2="475.45" y2="258.00"/></g>
<g stroke="#5c5c5c" stroke-width="1.25" fill="#5c5c5c"><line x1="478.79" y1="215.40" x2="478.79" y2="253.00"/><line x1="478.79" y1="186.60" x2="478.79" y2="144.10"/><line x1="476.79" y1="253.00" x2="480.79" y2="253.00"/><line x1="476.79" y1="144.10" x2="480.79" y2="144.10"/><g stroke="none"><use href="#dm" x="478.79" y="135.70"/><use href="#dm" x="478.79" y="137.30"/><use href="#dm" x="478.79" y="120.30"/><use href="#dm" x="478.79" y="81.00"/><use href="#dm" x="478.79" y="66.30"/></g><rect x="475.69" y="186.60" width="6.20" height="28.80" fill="#67cb95"/><line x1="475.69" y1="199.70" x2="481.89" y2="199.70"/></g>
<g stroke="#5c5c5c" stroke-width="1.25" fill="#5c5c5c"><line x1="485.22" y1="213.20" x2="485.22" y2="228.50"/><line x1="485.22" y1="197.40" x2="485.22" y2="175.40"/><line x1="483.22" y1="228.50" x2="487.22" y2="228.50"/><line x1="483.22" y1="175.40" x2="487.22" y2="175.40"/><g stroke="none"><use href="#dm" x="485.22" y="157.60"/><use href="#dm" x="485.22" y="144.80"/></g><rect x="482.12" y="197.40" width="6.20" height="15.80" fill="#6789cb"/><line x1="482.12" y1="202.80" x2="488.32" y2="202.80"/></g>
<g stroke="#5c5c5c" stroke-width="1.25" fill="#5c5c5c"><line x1="498.09" y1="241.40" x2="498.09" y2="247.00"/><line x1="498.09" y1="235.20" x2="498.09" y2="228.50"/><line x1="496.09" y1="247.00" x2="500.09" y2="247.00"/><line x1="496.09" y1="228.50" x2="500.09" y2="228.50"/><g stroke="none"><use href="#dm" x="498.09" y="213.70"/></g><rect x="494.99" y="235.20" width="6.20" height="6.20" fill="#cb6d67"/><line x1="494.99" y1="238.25" x2="501.19" y2="238.25"/></g>
<g stroke="#5c5c5c" stroke-width="1.25" fill="#5c5c5c"><line x1="504.53" y1="258.40" x2="504.53" y2="260.60"/><line x1="504.53" y1="254.80" x2="504.53" y2="251.10"/><line x1="502.53" y1="260.60" x2="506.53" y2="260.60"/><line x1="502.53" y1="251.10" x2="506.53" y2="251.10"/><g stroke="none"></g><rect x="501.43" y="254.80" width="6.20" height="3.60" fill="#b1cb67"/><line x1="501.43" y1="256.90" x2="507.63" y2="256.90"/></g>
<g stroke="#5c5c5c" stroke-width="1.25" fill="#5c5c5c"><line x1="510.96" y1="204.40" x2="510.96" y2="250.50"/><line x1="510.96" y1="168.40" x2="510.96" y2="115.80"/><line x1="508.96" y1="250.50" x2="512.96" y2="250.50"/><line x1="508.96" y1="115.80" x2="512.96" y2="115.80"/><g stroke="none"><use href="#dm" x="510.96" y="104.20"/><use href="#dm" x="510.96" y="106.50"/><use href="#dm" x="510.96" y="108.80"/><use href="#dm" x="510.96" y="70.40"/><use href="#dm" x="510.96" y="20.60"/></g><rect x="507.86" y="168.40" width="6.20" height="36.00" fill="#67cb95"/><line x1="507.86" y1="186.40" x2="514.06" y2="186.40"/></g>
<g stroke="#5c5c5c" stroke-width="1.25" fill="#5c5c5c"><line x1="517.39" y1="201.00" x2="517.39" y2="219.20"/><line x1="517.39" y1="181.30" x2="517.39" y2="154.50"/><line x1="515.39" y1="219.20" x2="519.39" y2="219.20"/><line x1="515.39" y1="154.50" x2="519.39" y2="154.50"/><g stroke="none"><use href="#dm" x="517.39" y="138.50"/><use href="#dm" x="517.39" y="129.40"/></g><rect x="514.29" y="181.30" width="6.20" height="19.70" fill="#6789cb"/><line x1="514.29" y1="187.30" x2="520.49" y2="187.30"/></g>
<g stroke="#5c5c5c" stroke-width="1.25" fill="#5c5c5c"><line x1="530.26" y1="237.40" x2="530.26" y2="243.20"/><line x1="530.26" y1="229.90" x2="530.26" y2="222.35"/><line x1="528.26" y1="243.20" x2="532.26" y2="243.20"/><line x1="528.26" y1="222.35" x2="532.26" y2="222.35"/><g stroke="none"><use href="#dm" x="530.26" y="202.60"/></g><rect x="527.16" y="229.90" width="6.20" height="7.50" fill="#cb6d67"/><line x1="527.16" y1="233.60" x2="533.36" y2="233.60"/></g>
<g stroke="#5c5c5c" stroke-width="1.25" fill="#5c5c5c"><line x1="536.70" y1="257.60" x2="536.70" y2="260.00"/><line x1="536.70" y1="252.50" x2="536.70" y2="248.10"/><line x1="534.70" y1="260.00" x2="538.70" y2="260.00"/><line x1="534.70" y1="248.10" x2="538.70" y2="248.10"/><g stroke="none"></g><rect x="533.60" y="252.50" width="6.20" height="5.10" fill="#b1cb67"/><line x1="533.60" y1="255.00" x2="539.80" y2="255.00"/></g>
<g stroke="#5c5c5c" stroke-width="1.25" fill="#5c5c5c"><line x1="543.13" y1="193.90" x2="543.13" y2="248.10"/><line x1="543.13" y1="150.10" x2="543.13" y2="84.50"/><line x1="541.13" y1="248.10" x2="545.13" y2="248.10"/><line x1="541.13" y1="84.50" x2="545.13" y2="84.50"/><g stroke="none"><use href="#dm" x="543.13" y="80.50"/><use href="#dm" x="543.13" y="74.50"/><use href="#dm" x="543.13" y="59.70"/><use href="#dm" x="543.13" y="20.60"/></g><rect x="540.03" y="150.10" width="6.20" height="43.80" fill="#67cb95"/><line x1="540.03" y1="172.10" x2="546.23" y2="172.10"/></g>
<g stroke="#5c5c5c" stroke-width="1.25" fill="#5c5c5c"><line x1="549.57" y1="189.30" x2="549.57" y2="210.40"/><line x1="549.57" y1="165.10" x2="549.57" y2="133.60"/><line x1="547.57" y1="210.40" x2="551.57" y2="210.40"/><line x1="547.57" y1="133.60" x2="551.57" y2="133.60"/><g stroke="none"><use href="#dm" x="549.57" y="120.30"/><use href="#dm" x="549.57" y="113.60"/></g><rect x="546.47" y="165.10" width="6.20" height="24.20" fill="#6789cb"/><line x1="546.47" y1="172.30" x2="552.67" y2="172.30"/></g>
<rect x="330.8" y="9.0" width="225.20" height="253.40" fill="none" stroke="#262626" stroke-width="0.9"/>
<line x1="330.8" y1="262.00" x2="334.80" y2="262.00" stroke="#262626" stroke-width="0.9"/>
<text x="304.99 311.59 315.01 321.69" y="266.40" font-size="11.4" class="tk">0.00</text>
<line x1="330.8" y1="217.47" x2="334.80" y2="217.47" stroke="#262626" stroke-width="0.9"/>
<text x="304.99 311.59 315.01 321.69" y="221.87" font-size="11.4" class="tk">0.05</text>
<line x1="330.8" y1="172.94" x2="334.80" y2="172.94" stroke="#262626" stroke-width="0.9"/>
<text x="304.99 311.59 315.01 321.69" y="177.34" font-size="11.4" class="tk">0.10</text>
<line x1="330.8" y1="128.41" x2="334.80" y2="128.41" stroke="#262626" stroke-width="0.9"/>
<text x="304.99 311.59 315.01 321.69" y="132.81" font-size="11.4" class="tk">0.15</text>
<line x1="330.8" y1="83.88" x2="334.80" y2="83.88" stroke="#262626" stroke-width="0.9"/>
<text x="304.99 311.59 315.01 321.69" y="88.28" font-size="11.4" class="tk">0.20</text>
<line x1="330.8" y1="39.35" x2="334.80" y2="39.35" stroke="#262626" stroke-width="0.9"/>
<text x="304.99 311.59 315.01 321.69" y="43.75" font-size="11.4" class="tk">0.25</text>
<line x1="346.89" y1="9.0" x2="346.89" y2="13.00" stroke="#262626" stroke-width="0.9"/>
<text x="338.51 345.10 348.52" y="273.00" font-size="11.4" class="tk">0.0</text>
<line x1="379.06" y1="9.0" x2="379.06" y2="13.00" stroke="#262626" stroke-width="0.9"/>
<text x="367.34 373.93 377.36 384.04" y="273.00" font-size="11.4" class="tk">0.05</text>
<line x1="411.23" y1="9.0" x2="411.23" y2="13.00" stroke="#262626" stroke-width="0.9"/>
<text x="402.85 409.44 412.87" y="273.00" font-size="11.4" class="tk">0.1</text>
<line x1="443.40" y1="9.0" x2="443.40" y2="13.00" stroke="#262626" stroke-width="0.9"/>
<text x="431.68 438.28 441.70 448.38" y="273.00" font-size="11.4" class="tk">0.15</text>
<line x1="475.57" y1="9.0" x2="475.57" y2="13.00" stroke="#262626" stroke-width="0.9"/>
<text x="467.19 473.79 477.21" y="273.00" font-size="11.4" class="tk">0.2</text>
<line x1="507.74" y1="9.0" x2="507.74" y2="13.00" stroke="#262626" stroke-width="0.9"/>
<text x="496.02 502.62 506.04 512.72" y="273.00" font-size="11.4" class="tk">0.25</text>
<line x1="539.91" y1="9.0" x2="539.91" y2="13.00" stroke="#262626" stroke-width="0.9"/>
<text x="531.54 538.13 541.55" y="273.00" font-size="11.4" class="tk">0.3</text>
<rect x="337.50" y="15.50" width="116.9" height="70.4" rx="2.5" fill="#fff" fill-opacity="0.8" stroke="#d6d6d6" stroke-width="1"/>
<rect x="342.30" y="21.10" width="26.5" height="9.5" fill="#cb6d67" stroke="#5c5c5c" stroke-width="1"/>
<text x="378.74 387.82 395.35 403.26" y="30.10" font-size="13.6">RFFM</text>
<rect x="342.30" y="37.10" width="26.5" height="9.5" fill="#b1cb67" stroke="#5c5c5c" stroke-width="1"/>
<text x="379.11 386.15 394.36 399.12 403.10 412.17 419.71 427.62" y="46.10" font-size="13.6">softRFFM</text>
<rect x="342.30" y="53.10" width="26.5" height="9.5" fill="#67cb95" stroke="#5c5c5c" stroke-width="1"/>
<text x="379.11 386.15 394.36 399.12 403.06 412.10 420.29 428.53 433.74 442.04" y="62.10" font-size="13.6">softEnergy</text>
<rect x="342.30" y="69.10" width="26.5" height="9.5" fill="#6789cb" stroke="#5c5c5c" stroke-width="1"/>
<text x="379.11 386.15 394.36 399.12 403.42 412.40 420.94 429.12 439.31" y="78.10" font-size="13.6">softBBSE+</text>
<g stroke="#5c5c5c" stroke-width="1.25" fill="#5c5c5c"><line x1="607.44" y1="261.10" x2="607.44" y2="262.00"/><line x1="607.44" y1="258.90" x2="607.44" y2="258.50"/><line x1="605.44" y1="262.00" x2="609.44" y2="262.00"/><line x1="605.44" y1="258.50" x2="609.44" y2="258.50"/><g stroke="none"><use href="#dm" x="607.44" y="248.20"/><use href="#dm" x="607.44" y="249.47"/><use href="#dm" x="607.44" y="250.73"/><use href="#dm" x="607.44" y="252.00"/><use href="#dm" x="607.44" y="253.27"/><use href="#dm" x="607.44" y="254.53"/><use href="#dm" x="607.44" y="255.80"/><use href="#dm" x="607.44" y="238.20"/><use href="#dm" x="607.44" y="240.80"/></g><rect x="604.34" y="258.90" width="6.20" height="2.20" fill="#cb6d67"/><line x1="604.34" y1="260.00" x2="610.54" y2="260.00"/></g>
<g stroke="#5c5c5c" stroke-width="1.25" fill="#5c5c5c"><line x1="613.87" y1="261.10" x2="613.87" y2="262.00"/><line x1="613.87" y1="258.90" x2="613.87" y2="258.50"/><line x1="611.87" y1="262.00" x2="615.87" y2="262.00"/><line x1="611.87" y1="258.50" x2="615.87" y2="258.50"/><g stroke="none"><use href="#dm" x="613.87" y="248.20"/><use href="#dm" x="613.87" y="249.47"/><use href="#dm" x="613.87" y="250.73"/><use href="#dm" x="613.87" y="252.00"/><use href="#dm" x="613.87" y="253.27"/><use href="#dm" x="613.87" y="254.53"/><use href="#dm" x="613.87" y="255.80"/><use href="#dm" x="613.87" y="238.20"/><use href="#dm" x="613.87" y="240.80"/></g><rect x="610.77" y="258.90" width="6.20" height="2.20" fill="#b1cb67"/><line x1="610.77" y1="260.00" x2="616.97" y2="260.00"/></g>
<g stroke="#5c5c5c" stroke-width="1.25" fill="#5c5c5c"><line x1="620.31" y1="258.70" x2="620.31" y2="261.00"/><line x1="620.31" y1="255.90" x2="620.31" y2="253.50"/><line x1="618.31" y1="261.00" x2="622.31" y2="261.00"/><line x1="618.31" y1="253.50" x2="622.31" y2="253.50"/><g stroke="none"><use href="#dm" x="620.31" y="234.50"/><use href="#dm" x="620.31" y="236.00"/><use href="#dm" x="620.31" y="242.60"/><use href="#dm" x="620.31" y="245.50"/><use href="#dm" x="620.31" y="248.30"/><use href="#dm" x="620.31" y="251.00"/></g><rect x="617.21" y="255.90" width="6.20" height="2.80" fill="#67cb95"/><line x1="617.21" y1="258.30" x2="623.41" y2="258.30"/></g>
<g stroke="#5c5c5c" stroke-width="1.25" fill="#5c5c5c"><line x1="626.75" y1="261.80" x2="626.75" y2="262.00"/><line x1="626.75" y1="259.40" x2="626.75" y2="258.80"/><line x1="624.75" y1="262.00" x2="628.75" y2="262.00"/><line x1="624.75" y1="258.80" x2="628.75" y2="258.80"/><g stroke="none"><use href="#dm" x="626.75" y="248.20"/><use href="#dm" x="626.75" y="249.82"/><use href="#dm" x="626.75" y="251.44"/><use href="#dm" x="626.75" y="253.06"/><use href="#dm" x="626.75" y="254.68"/><use href="#dm" x="626.75" y="256.30"/><use href="#dm" x="626.75" y="235.50"/><use href="#dm" x="626.75" y="238.00"/><use href="#dm" x="626.75" y="240.60"/><use href="#dm" x="626.75" y="206.50"/></g><rect x="623.65" y="259.40" width="6.20" height="2.40" fill="#6789cb"/><line x1="623.65" y1="260.60" x2="629.85" y2="260.60"/></g>
<g stroke="#5c5c5c" stroke-width="1.25" fill="#5c5c5c"><line x1="639.62" y1="253.30" x2="639.62" y2="257.30"/><line x1="639.62" y1="247.20" x2="639.62" y2="239.80"/><line x1="637.62" y1="257.30" x2="641.62" y2="257.30"/><line x1="637.62" y1="239.80" x2="641.62" y2="239.80"/><g stroke="none"><use href="#dm" x="639.62" y="235.50"/><use href="#dm" x="639.62" y="235.50"/><use href="#dm" x="639.62" y="229.30"/><use href="#dm" x="639.62" y="214.90"/></g><rect x="636.52" y="247.20" width="6.20" height="6.10" fill="#cb6d67"/><line x1="636.52" y1="250.30" x2="642.72" y2="250.30"/></g>
<g stroke="#5c5c5c" stroke-width="1.25" fill="#5c5c5c"><line x1="646.06" y1="255.20" x2="646.06" y2="261.10"/><line x1="646.06" y1="248.80" x2="646.06" y2="241.00"/><line x1="644.06" y1="261.10" x2="648.06" y2="261.10"/><line x1="644.06" y1="241.00" x2="648.06" y2="241.00"/><g stroke="none"><use href="#dm" x="646.06" y="236.70"/><use href="#dm" x="646.06" y="238.40"/><use href="#dm" x="646.06" y="228.40"/><use href="#dm" x="646.06" y="217.00"/></g><rect x="642.96" y="248.80" width="6.20" height="6.40" fill="#b1cb67"/><line x1="642.96" y1="254.00" x2="649.16" y2="254.00"/></g>
<g stroke="#5c5c5c" stroke-width="1.25" fill="#5c5c5c"><line x1="652.50" y1="256.40" x2="652.50" y2="260.10"/><line x1="652.50" y1="250.00" x2="652.50" y2="245.00"/><line x1="650.50" y1="260.10" x2="654.50" y2="260.10"/><line x1="650.50" y1="245.00" x2="654.50" y2="245.00"/><g stroke="none"><use href="#dm" x="652.50" y="239.30"/><use href="#dm" x="652.50" y="241.90"/><use href="#dm" x="652.50" y="221.00"/><use href="#dm" x="652.50" y="224.20"/><use href="#dm" x="652.50" y="227.40"/><use href="#dm" x="652.50" y="230.60"/><use href="#dm" x="652.50" y="213.90"/></g><rect x="649.40" y="250.00" width="6.20" height="6.40" fill="#67cb95"/><line x1="649.40" y1="252.00" x2="655.60" y2="252.00"/></g>
<g stroke="#5c5c5c" stroke-width="1.25" fill="#5c5c5c"><line x1="658.93" y1="249.40" x2="658.93" y2="256.80"/><line x1="658.93" y1="240.30" x2="658.93" y2="226.50"/><line x1="656.93" y1="256.80" x2="660.93" y2="256.80"/><line x1="656.93" y1="226.50" x2="660.93" y2="226.50"/><g stroke="none"><use href="#dm" x="658.93" y="224.90"/><use href="#dm" x="658.93" y="219.60"/><use href="#dm" x="658.93" y="210.90"/><use href="#dm" x="658.93" y="203.60"/></g><rect x="655.83" y="240.30" width="6.20" height="9.10" fill="#6789cb"/><line x1="655.83" y1="246.30" x2="662.03" y2="246.30"/></g>
<g stroke="#5c5c5c" stroke-width="1.25" fill="#5c5c5c"><line x1="671.81" y1="244.50" x2="671.81" y2="252.70"/><line x1="671.81" y1="232.70" x2="671.81" y2="217.00"/><line x1="669.81" y1="252.70" x2="673.81" y2="252.70"/><line x1="669.81" y1="217.00" x2="673.81" y2="217.00"/><g stroke="none"><use href="#dm" x="671.81" y="206.10"/><use href="#dm" x="671.81" y="208.70"/><use href="#dm" x="671.81" y="211.30"/><use href="#dm" x="671.81" y="213.90"/><use href="#dm" x="671.81" y="178.40"/></g><rect x="668.71" y="232.70" width="6.20" height="11.80" fill="#cb6d67"/><line x1="668.71" y1="238.70" x2="674.91" y2="238.70"/></g>
<g stroke="#5c5c5c" stroke-width="1.25" fill="#5c5c5c"><line x1="678.25" y1="248.20" x2="678.25" y2="259.10"/><line x1="678.25" y1="235.50" x2="678.25" y2="217.00"/><line x1="676.25" y1="259.10" x2="680.25" y2="259.10"/><line x1="676.25" y1="217.00" x2="680.25" y2="217.00"/><g stroke="none"><use href="#dm" x="678.25" y="211.40"/><use href="#dm" x="678.25" y="213.90"/><use href="#dm" x="678.25" y="201.70"/><use href="#dm" x="678.25" y="182.80"/></g><rect x="675.15" y="235.50" width="6.20" height="12.70" fill="#b1cb67"/><line x1="675.15" y1="243.10" x2="681.35" y2="243.10"/></g>
<g stroke="#5c5c5c" stroke-width="1.25" fill="#5c5c5c"><line x1="684.68" y1="250.90" x2="684.68" y2="260.00"/><line x1="684.68" y1="238.20" x2="684.68" y2="221.00"/><line x1="682.68" y1="260.00" x2="686.68" y2="260.00"/><line x1="682.68" y1="221.00" x2="686.68" y2="221.00"/><g stroke="none"><use href="#dm" x="684.68" y="216.00"/><use href="#dm" x="684.68" y="218.40"/><use href="#dm" x="684.68" y="191.00"/><use href="#dm" x="684.68" y="193.90"/><use href="#dm" x="684.68" y="196.80"/><use href="#dm" x="684.68" y="199.70"/><use href="#dm" x="684.68" y="202.60"/><use href="#dm" x="684.68" y="205.50"/><use href="#dm" x="684.68" y="175.20"/></g><rect x="681.58" y="238.20" width="6.20" height="12.70" fill="#67cb95"/><line x1="681.58" y1="244.90" x2="687.78" y2="244.90"/></g>
<g stroke="#5c5c5c" stroke-width="1.25" fill="#5c5c5c"><line x1="691.12" y1="236.90" x2="691.12" y2="252.20"/><line x1="691.12" y1="218.20" x2="691.12" y2="192.90"/><line x1="689.12" y1="252.20" x2="693.12" y2="252.20"/><line x1="689.12" y1="192.90" x2="693.12" y2="192.90"/><g stroke="none"><use href="#dm" x="691.12" y="186.30"/><use href="#dm" x="691.12" y="173.00"/></g><rect x="688.02" y="218.20" width="6.20" height="18.70" fill="#6789cb"/><line x1="688.02" y1="229.10" x2="694.22" y2="229.10"/></g>
<g stroke="#5c5c5c" stroke-width="1.25" fill="#5c5c5c"><line x1="703.99" y1="235.10" x2="703.99" y2="247.80"/><line x1="703.99" y1="218.70" x2="703.99" y2="195.00"/><line x1="701.99" y1="247.80" x2="705.99" y2="247.80"/><line x1="701.99" y1="195.00" x2="705.99" y2="195.00"/><g stroke="none"><use href="#dm" x="703.99" y="183.20"/><use href="#dm" x="703.99" y="186.07"/><use href="#dm" x="703.99" y="188.93"/><use href="#dm" x="703.99" y="191.80"/><use href="#dm" x="703.99" y="137.00"/></g><rect x="700.89" y="218.70" width="6.20" height="16.40" fill="#cb6d67"/><line x1="700.89" y1="227.30" x2="707.09" y2="227.30"/></g>
<g stroke="#5c5c5c" stroke-width="1.25" fill="#5c5c5c"><line x1="710.43" y1="241.30" x2="710.43" y2="257.60"/><line x1="710.43" y1="222.50" x2="710.43" y2="194.90"/><line x1="708.43" y1="257.60" x2="712.43" y2="257.60"/><line x1="708.43" y1="194.90" x2="712.43" y2="194.90"/><g stroke="none"><use href="#dm" x="710.43" y="187.20"/><use href="#dm" x="710.43" y="191.60"/><use href="#dm" x="710.43" y="175.20"/><use href="#dm" x="710.43" y="142.40"/></g><rect x="707.33" y="222.50" width="6.20" height="18.80" fill="#b1cb67"/><line x1="707.33" y1="234.50" x2="713.53" y2="234.50"/></g>
<g stroke="#5c5c5c" stroke-width="1.25" fill="#5c5c5c"><line x1="716.87" y1="243.60" x2="716.87" y2="257.60"/><line x1="716.87" y1="225.50" x2="716.87" y2="198.00"/><line x1="714.87" y1="257.60" x2="718.87" y2="257.60"/><line x1="714.87" y1="198.00" x2="718.87" y2="198.00"/><g stroke="none"><use href="#dm" x="716.87" y="191.60"/><use href="#dm" x="716.87" y="194.90"/><use href="#dm" x="716.87" y="179.50"/><use href="#dm" x="716.87" y="170.80"/><use href="#dm" x="716.87" y="164.20"/><use href="#dm" x="716.87" y="155.20"/><use href="#dm" x="716.87" y="135.20"/></g><rect x="713.77" y="225.50" width="6.20" height="18.10" fill="#67cb95"/><line x1="713.77" y1="236.40" x2="719.97" y2="236.40"/></g>
<g stroke="#5c5c5c" stroke-width="1.25" fill="#5c5c5c"><line x1="723.31" y1="224.90" x2="723.31" y2="246.70"/><line x1="723.31" y1="197.10" x2="723.31" y2="156.50"/><line x1="721.31" y1="246.70" x2="725.31" y2="246.70"/><line x1="721.31" y1="156.50" x2="725.31" y2="156.50"/><g stroke="none"><use href="#dm" x="723.31" y="148.30"/></g><rect x="720.21" y="197.10" width="6.20" height="27.80" fill="#6789cb"/><line x1="720.21" y1="212.60" x2="726.41" y2="212.60"/></g>
<g stroke="#5c5c5c" stroke-width="1.25" fill="#5c5c5c"><line x1="736.18" y1="226.50" x2="736.18" y2="242.20"/><line x1="736.18" y1="203.90" x2="736.18" y2="174.50"/><line x1="734.18" y1="242.20" x2="738.18" y2="242.20"/><line x1="734.18" y1="174.50" x2="738.18" y2="174.50"/><g stroke="none"><use href="#dm" x="736.18" y="165.30"/><use href="#dm" x="736.18" y="168.60"/><use href="#dm" x="736.18" y="154.40"/><use href="#dm" x="736.18" y="158.80"/><use href="#dm" x="736.18" y="95.30"/></g><rect x="733.08" y="203.90" width="6.20" height="22.60" fill="#cb6d67"/><line x1="733.08" y1="215.90" x2="739.28" y2="215.90"/></g>
<g stroke="#5c5c5c" stroke-width="1.25" fill="#5c5c5c"><line x1="742.62" y1="233.60" x2="742.62" y2="255.50"/><line x1="742.62" y1="208.40" x2="742.62" y2="171.20"/><line x1="740.62" y1="255.50" x2="744.62" y2="255.50"/><line x1="740.62" y1="171.20" x2="744.62" y2="171.20"/><g stroke="none"><use href="#dm" x="742.62" y="160.50"/><use href="#dm" x="742.62" y="163.45"/><use href="#dm" x="742.62" y="166.40"/><use href="#dm" x="742.62" y="144.20"/><use href="#dm" x="742.62" y="100.00"/></g><rect x="739.52" y="208.40" width="6.20" height="25.20" fill="#b1cb67"/><line x1="739.52" y1="224.40" x2="745.72" y2="224.40"/></g>
<g stroke="#5c5c5c" stroke-width="1.25" fill="#5c5c5c"><line x1="749.05" y1="237.20" x2="749.05" y2="254.00"/><line x1="749.05" y1="212.20" x2="749.05" y2="193.30"/><line x1="747.05" y1="254.00" x2="751.05" y2="254.00"/><line x1="747.05" y1="193.30" x2="751.05" y2="193.30"/><g stroke="none"><use href="#dm" x="749.05" y="166.40"/><use href="#dm" x="749.05" y="169.15"/><use href="#dm" x="749.05" y="171.90"/><use href="#dm" x="749.05" y="153.20"/><use href="#dm" x="749.05" y="142.00"/><use href="#dm" x="749.05" y="131.10"/><use href="#dm" x="749.05" y="118.00"/><use href="#dm" x="749.05" y="91.60"/></g><rect x="745.95" y="212.20" width="6.20" height="25.00" fill="#67cb95"/><line x1="745.95" y1="228.20" x2="752.15" y2="228.20"/></g>
<g stroke="#5c5c5c" stroke-width="1.25" fill="#5c5c5c"><line x1="755.49" y1="210.80" x2="755.49" y2="240.50"/><line x1="755.49" y1="176.30" x2="755.49" y2="128.90"/><line x1="753.49" y1="240.50" x2="757.49" y2="240.50"/><line x1="753.49" y1="128.90" x2="757.49" y2="128.90"/><g stroke="none"><use href="#dm" x="755.49" y="122.40"/><use href="#dm" x="755.49" y="114.30"/></g><rect x="752.39" y="176.30" width="6.20" height="34.50" fill="#6789cb"/><line x1="752.39" y1="195.30" x2="758.59" y2="195.30"/></g>
<g stroke="#5c5c5c" stroke-width="1.25" fill="#5c5c5c"><line x1="768.37" y1="217.20" x2="768.37" y2="237.40"/><line x1="768.37" y1="189.50" x2="768.37" y2="150.00"/><line x1="766.37" y1="237.40" x2="770.37" y2="237.40"/><line x1="766.37" y1="150.00" x2="770.37" y2="150.00"/><g stroke="none"><use href="#dm" x="768.37" y="141.00"/><use href="#dm" x="768.37" y="143.70"/><use href="#dm" x="768.37" y="146.40"/><use href="#dm" x="768.37" y="127.80"/><use href="#dm" x="768.37" y="128.90"/><use href="#dm" x="768.37" y="58.00"/></g><rect x="765.27" y="189.50" width="6.20" height="27.70" fill="#cb6d67"/><line x1="765.27" y1="204.00" x2="771.47" y2="204.00"/></g>
<g stroke="#5c5c5c" stroke-width="1.25" fill="#5c5c5c"><line x1="774.80" y1="225.30" x2="774.80" y2="253.40"/><line x1="774.80" y1="194.60" x2="774.80" y2="148.20"/><line x1="772.80" y1="253.40" x2="776.80" y2="253.40"/><line x1="772.80" y1="148.20" x2="776.80" y2="148.20"/><g stroke="none"><use href="#dm" x="774.80" y="133.30"/><use href="#dm" x="774.80" y="135.83"/><use href="#dm" x="774.80" y="138.37"/><use href="#dm" x="774.80" y="140.90"/><use href="#dm" x="774.80" y="112.50"/><use href="#dm" x="774.80" y="64.70"/></g><rect x="771.70" y="194.60" width="6.20" height="30.70" fill="#b1cb67"/><line x1="771.70" y1="214.20" x2="777.90" y2="214.20"/></g>
<g stroke="#5c5c5c" stroke-width="1.25" fill="#5c5c5c"><line x1="781.24" y1="230.10" x2="781.24" y2="250.40"/><line x1="781.24" y1="199.50" x2="781.24" y2="175.00"/><line x1="779.24" y1="250.40" x2="783.24" y2="250.40"/><line x1="779.24" y1="175.00" x2="783.24" y2="175.00"/><g stroke="none"><use href="#dm" x="781.24" y="147.50"/><use href="#dm" x="781.24" y="149.80"/><use href="#dm" x="781.24" y="137.70"/><use href="#dm" x="781.24" y="127.80"/><use href="#dm" x="781.24" y="122.40"/><use href="#dm" x="781.24" y="112.50"/><use href="#dm" x="781.24" y="101.60"/><use href="#dm" x="781.24" y="83.10"/><use href="#dm" x="781.24" y="49.40"/></g><rect x="778.14" y="199.50" width="6.20" height="30.60" fill="#67cb95"/><line x1="778.14" y1="218.90" x2="784.34" y2="218.90"/></g>
<g stroke="#5c5c5c" stroke-width="1.25" fill="#5c5c5c"><line x1="787.68" y1="198.90" x2="787.68" y2="236.00"/><line x1="787.68" y1="155.00" x2="787.68" y2="95.30"/><line x1="785.68" y1="236.00" x2="789.68" y2="236.00"/><line x1="785.68" y1="95.30" x2="789.68" y2="95.30"/><g stroke="none"><use href="#dm" x="787.68" y="88.55"/><use href="#dm" x="787.68" y="88.55"/></g><rect x="784.58" y="155.00" width="6.20" height="43.90" fill="#6789cb"/><line x1="784.58" y1="178.10" x2="790.78" y2="178.10"/></g>
<g stroke="#5c5c5c" stroke-width="1.25" fill="#5c5c5c"><line x1="800.55" y1="207.70" x2="800.55" y2="232.30"/><line x1="800.55" y1="175.10" x2="800.55" y2="130.00"/><line x1="798.55" y1="232.30" x2="802.55" y2="232.30"/><line x1="798.55" y1="130.00" x2="802.55" y2="130.00"/><g stroke="none"><use href="#dm" x="800.55" y="117.70"/><use href="#dm" x="800.55" y="120.55"/><use href="#dm" x="800.55" y="123.40"/><use href="#dm" x="800.55" y="103.30"/><use href="#dm" x="800.55" y="98.30"/><use href="#dm" x="800.55" y="20.60"/></g><rect x="797.45" y="175.10" width="6.20" height="32.60" fill="#cb6d67"/><line x1="797.45" y1="192.70" x2="803.65" y2="192.70"/></g>
<g stroke="#5c5c5c" stroke-width="1.25" fill="#5c5c5c"><line x1="806.99" y1="217.60" x2="806.99" y2="251.30"/><line x1="806.99" y1="179.10" x2="806.99" y2="125.00"/><line x1="804.99" y1="251.30" x2="808.99" y2="251.30"/><line x1="804.99" y1="125.00" x2="808.99" y2="125.00"/><g stroke="none"><use href="#dm" x="806.99" y="115.95"/><use href="#dm" x="806.99" y="115.95"/><use href="#dm" x="806.99" y="106.90"/><use href="#dm" x="806.99" y="106.90"/><use href="#dm" x="806.99" y="79.10"/><use href="#dm" x="806.99" y="24.90"/></g><rect x="803.89" y="179.10" width="6.20" height="38.50" fill="#b1cb67"/><line x1="803.89" y1="204.90" x2="810.09" y2="204.90"/></g>
<g stroke="#5c5c5c" stroke-width="1.25" fill="#5c5c5c"><line x1="813.43" y1="223.00" x2="813.43" y2="247.00"/><line x1="813.43" y1="183.60" x2="813.43" y2="127.00"/><line x1="811.43" y1="247.00" x2="815.43" y2="247.00"/><line x1="811.43" y1="127.00" x2="815.43" y2="127.00"/><g stroke="none"><use href="#dm" x="813.43" y="119.70"/><use href="#dm" x="813.43" y="122.05"/><use href="#dm" x="813.43" y="124.40"/><use href="#dm" x="813.43" y="110.40"/><use href="#dm" x="813.43" y="99.30"/><use href="#dm" x="813.43" y="91.20"/><use href="#dm" x="813.43" y="83.10"/><use href="#dm" x="813.43" y="72.00"/><use href="#dm" x="813.43" y="47.30"/><use href="#dm" x="813.43" y="26.80"/></g><rect x="810.33" y="183.60" width="6.20" height="39.40" fill="#67cb95"/><line x1="810.33" y1="208.80" x2="816.53" y2="208.80"/></g>
<g stroke="#5c5c5c" stroke-width="1.25" fill="#5c5c5c"><line x1="819.86" y1="184.20" x2="819.86" y2="231.80"/><line x1="819.86" y1="133.50" x2="819.86" y2="55.50"/><line x1="817.86" y1="231.80" x2="821.86" y2="231.80"/><line x1="817.86" y1="55.50" x2="821.86" y2="55.50"/><g stroke="none"></g><rect x="816.76" y="133.50" width="6.20" height="50.70" fill="#6789cb"/><line x1="816.76" y1="162.40" x2="822.96" y2="162.40"/></g>
<rect x="601.0" y="9.0" width="225.30" height="253.40" fill="none" stroke="#262626" stroke-width="0.9"/>
<line x1="601.0" y1="262.00" x2="605.00" y2="262.00" stroke="#262626" stroke-width="0.9"/>
<text x="575.19 581.79 585.21 591.89" y="266.40" font-size="11.4" class="tk">0.00</text>
<line x1="601.0" y1="224.25" x2="605.00" y2="224.25" stroke="#262626" stroke-width="0.9"/>
<text x="575.19 581.79 585.21 591.89" y="228.65" font-size="11.4" class="tk">0.02</text>
<line x1="601.0" y1="186.50" x2="605.00" y2="186.50" stroke="#262626" stroke-width="0.9"/>
<text x="575.19 581.79 585.21 591.89" y="190.90" font-size="11.4" class="tk">0.04</text>
<line x1="601.0" y1="148.75" x2="605.00" y2="148.75" stroke="#262626" stroke-width="0.9"/>
<text x="575.19 581.79 585.21 591.89" y="153.15" font-size="11.4" class="tk">0.06</text>
<line x1="601.0" y1="111.00" x2="605.00" y2="111.00" stroke="#262626" stroke-width="0.9"/>
<text x="575.19 581.79 585.21 591.89" y="115.40" font-size="11.4" class="tk">0.08</text>
<line x1="601.0" y1="73.25" x2="605.00" y2="73.25" stroke="#262626" stroke-width="0.9"/>
<text x="575.19 581.79 585.21 591.89" y="77.65" font-size="11.4" class="tk">0.10</text>
<line x1="601.0" y1="35.50" x2="605.00" y2="35.50" stroke="#262626" stroke-width="0.9"/>
<text x="575.19 581.79 585.21 591.89" y="39.90" font-size="11.4" class="tk">0.12</text>
<line x1="617.09" y1="9.0" x2="617.09" y2="13.00" stroke="#262626" stroke-width="0.9"/>
<text x="608.71 615.31 618.73" y="273.00" font-size="11.4" class="tk">0.0</text>
<line x1="649.28" y1="9.0" x2="649.28" y2="13.00" stroke="#262626" stroke-width="0.9"/>
<text x="637.56 644.15 647.58 654.26" y="273.00" font-size="11.4" class="tk">0.05</text>
<line x1="681.46" y1="9.0" x2="681.46" y2="13.00" stroke="#262626" stroke-width="0.9"/>
<text x="673.09 679.68 683.10" y="273.00" font-size="11.4" class="tk">0.1</text>
<line x1="713.65" y1="9.0" x2="713.65" y2="13.00" stroke="#262626" stroke-width="0.9"/>
<text x="701.93 708.53 711.95 718.63" y="273.00" font-size="11.4" class="tk">0.15</text>
<line x1="745.84" y1="9.0" x2="745.84" y2="13.00" stroke="#262626" stroke-width="0.9"/>
<text x="737.46 744.05 747.47" y="273.00" font-size="11.4" class="tk">0.2</text>
<line x1="778.02" y1="9.0" x2="778.02" y2="13.00" stroke="#262626" stroke-width="0.9"/>
<text x="766.30 772.90 776.32 783.00" y="273.00" font-size="11.4" class="tk">0.25</text>
<line x1="810.21" y1="9.0" x2="810.21" y2="13.00" stroke="#262626" stroke-width="0.9"/>
<text x="801.83 808.42 811.85" y="273.00" font-size="11.4" class="tk">0.3</text>
<rect x="607.70" y="15.50" width="116.9" height="70.4" rx="2.5" fill="#fff" fill-opacity="0.8" stroke="#d6d6d6" stroke-width="1"/>
<rect x="612.50" y="21.10" width="26.5" height="9.5" fill="#cb6d67" stroke="#5c5c5c" stroke-width="1"/>
<text x="648.94 658.02 665.55 673.46" y="30.10" font-size="13.6">RFFM</text>
<rect x="612.50" y="37.10" width="26.5" height="9.5" fill="#b1cb67" stroke="#5c5c5c" stroke-width="1"/>
<text x="649.31 656.35 664.56 669.32 673.30 682.37 689.91 697.82" y="46.10" font-size="13.6">softRFFM</text>
<rect x="612.50" y="53.10" width="26.5" height="9.5" fill="#67cb95" stroke="#5c5c5c" stroke-width="1"/>
<text x="649.31 656.35 664.56 669.32 673.26 682.30 690.49 698.73 703.94 712.24" y="62.10" font-size="13.6">softEnergy</text>
<rect x="612.50" y="69.10" width="26.5" height="9.5" fill="#6789cb" stroke="#5c5c5c" stroke-width="1"/>
<text x="649.31 656.35 664.56 669.32 673.62 682.60 691.14 699.32 709.51" y="78.10" font-size="13.6">softBBSE+</text>
<g transform="translate(15.6,133.4) rotate(-90)"><text x="-66.70 -55.11 -47.07 -38.90 -30.75 -26.87 -17.47 -9.51 -2.48 5.66 9.32 17.96 22.64 30.67 34.21 43.34 48.62 53.52 61.61" y="0.00" font-size="13.8">Mean Absolute Error</text></g>
<text x="360.65 369.14 377.14 382.16 389.27 397.45 406.05 410.75 418.92 427.11 435.10 439.31 447.50 451.89 456.25 464.41 472.49 475.84 482.91 490.90" y="288.40" font-size="13.5">Percentage of noise </text>
<text x="495.66" y="288.4" font-size="14" font-style="italic">ε</text>
</svg></body></html>
